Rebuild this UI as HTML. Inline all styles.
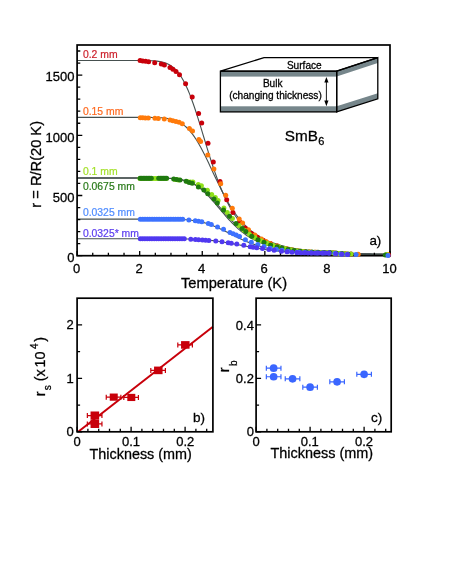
<!DOCTYPE html>
<html lang="en"><head><meta charset="utf-8"><title>SmB6 thickness dependence</title>
<style>html,body{margin:0;padding:0;background:#fff}body{width:450px;height:582px;overflow:hidden}svg{display:block}svg text{stroke:#000;stroke-width:.28px}</style>
</head><body>
<svg width="450" height="582" viewBox="0 0 450 582" font-family="'Liberation Sans', sans-serif" fill="#000">
<rect width="450" height="582" fill="#fff"/>
<g fill="none" stroke="#46504f" stroke-width="1.1">
<path d="M77.10 60.53 L108.39 60.53 L109.95 60.53 L111.52 60.53 L113.08 60.53 L114.65 60.53 L116.21 60.53 L117.78 60.53 L119.34 60.53 L120.91 60.53 L122.47 60.53 L124.03 60.53 L125.60 60.53 L127.16 60.53 L128.73 60.53 L130.29 60.53 L131.86 60.53 L133.42 60.53 L134.99 60.53 L136.55 60.54 L138.12 60.54 L139.68 60.54 L141.24 60.55 L142.81 60.56 L144.37 60.58 L145.94 60.60 L147.50 60.63 L149.07 60.66 L150.63 60.72 L152.20 60.79 L153.76 60.88 L155.32 61.00 L156.89 61.16 L158.45 61.36 L160.02 61.61 L161.58 61.92 L163.15 62.30 L164.71 62.77 L166.28 63.33 L167.84 64.01 L169.41 64.82 L170.97 65.78 L172.53 66.90 L174.10 68.21 L175.66 69.71 L177.23 71.43 L178.79 73.38 L180.36 75.58 L181.92 78.04 L183.49 80.77 L185.05 83.77 L186.61 87.04 L188.18 90.59 L189.74 94.40 L191.31 98.47 L192.87 102.77 L194.44 107.29 L196.00 111.99 L197.57 116.85 L199.13 121.85 L200.70 126.93 L202.26 132.08 L203.82 137.26 L205.39 142.43 L206.95 147.57 L208.52 152.65 L210.08 157.63 L211.65 162.50 L213.21 167.23 L214.78 171.82 L216.34 176.25 L217.90 180.50 L219.47 184.58 L221.03 188.47 L222.60 192.18 L224.16 195.70 L225.73 199.05 L227.29 202.21 L228.86 205.20 L230.42 208.02 L231.99 210.68 L233.55 213.18 L235.11 215.54 L236.68 217.75 L238.24 219.83 L239.81 221.78 L241.37 223.61 L242.94 225.33 L244.50 226.95 L246.07 228.46 L247.63 229.88 L249.19 231.22 L250.76 232.47 L252.32 233.64 L253.89 234.75 L255.45 235.78 L257.02 236.76 L258.58 237.67 L260.15 238.53 L261.71 239.34 L263.28 240.11 L264.84 240.83 L266.40 241.50 L267.97 242.14 L269.53 242.74 L271.10 243.31 L272.66 243.84 L274.23 244.35 L275.79 244.83 L277.36 245.28 L278.92 245.71 L280.48 246.11 L282.05 246.49 L283.61 246.86 L285.18 247.20 L286.74 247.53 L288.31 247.84 L289.87 248.13 L291.44 248.41 L293.00 248.68 L294.57 248.93 L296.13 249.17 L297.69 249.40 L299.26 249.62 L300.82 249.83 L302.39 250.03 L303.95 250.22 L305.52 250.40 L307.08 250.57 L308.65 250.74 L310.21 250.89 L311.77 251.04 L313.34 251.19 L314.90 251.33 L316.47 251.46 L318.03 251.59 L319.60 251.71 L321.16 251.82 L322.73 251.93 L324.29 252.04 L325.86 252.14 L327.42 252.24 L328.98 252.34 L330.55 252.43 L332.11 252.52 L333.68 252.60 L335.24 252.68 L336.81 252.76 L338.37 252.84 L339.94 252.91 L341.50 252.98 L343.06 253.05 L344.63 253.11 L346.19 253.17 L347.76 253.23 L349.32 253.29 L350.89 253.35 L352.45 253.40 L354.02 253.46 L355.58 253.51 L357.15 253.56 L358.71 253.60 L360.27 253.65 L361.84 253.69 L363.40 253.74 L364.97 253.78 L366.53 253.82 L368.10 253.86 L369.66 253.90 L371.23 253.93 L372.79 253.97 L374.36 254.00 L375.92 254.04 L377.48 254.07 L379.05 254.10 L380.61 254.13 L382.18 254.16 L383.74 254.19 L385.31 254.22 L386.87 254.24 L388.44 254.27 L390.00 254.30"/>
<path d="M77.10 117.36 L108.39 117.36 L109.95 117.36 L111.52 117.36 L113.08 117.36 L114.65 117.36 L116.21 117.36 L117.78 117.36 L119.34 117.36 L120.91 117.36 L122.47 117.36 L124.03 117.36 L125.60 117.36 L127.16 117.36 L128.73 117.36 L130.29 117.36 L131.86 117.36 L133.42 117.36 L134.99 117.36 L136.55 117.36 L138.12 117.36 L139.68 117.36 L141.24 117.37 L142.81 117.37 L144.37 117.37 L145.94 117.38 L147.50 117.39 L149.07 117.40 L150.63 117.41 L152.20 117.43 L153.76 117.46 L155.32 117.50 L156.89 117.55 L158.45 117.61 L160.02 117.69 L161.58 117.79 L163.15 117.91 L164.71 118.07 L166.28 118.26 L167.84 118.49 L169.41 118.78 L170.97 119.11 L172.53 119.51 L174.10 119.99 L175.66 120.54 L177.23 121.19 L178.79 121.94 L180.36 122.79 L181.92 123.77 L183.49 124.88 L185.05 126.13 L186.61 127.52 L188.18 129.07 L189.74 130.78 L191.31 132.65 L192.87 134.68 L194.44 136.88 L196.00 139.24 L197.57 141.76 L199.13 144.42 L200.70 147.23 L202.26 150.16 L203.82 153.20 L205.39 156.34 L206.95 159.57 L208.52 162.85 L210.08 166.18 L211.65 169.54 L213.21 172.90 L214.78 176.25 L216.34 179.58 L217.90 182.86 L219.47 186.09 L221.03 189.24 L222.60 192.32 L224.16 195.32 L225.73 198.21 L227.29 201.01 L228.86 203.70 L230.42 206.29 L231.99 208.76 L233.55 211.13 L235.11 213.39 L236.68 215.53 L238.24 217.58 L239.81 219.52 L241.37 221.36 L242.94 223.10 L244.50 224.75 L246.07 226.31 L247.63 227.79 L249.19 229.18 L250.76 230.50 L252.32 231.74 L253.89 232.92 L255.45 234.03 L257.02 235.07 L258.58 236.06 L260.15 236.99 L261.71 237.87 L263.28 238.70 L264.84 239.48 L266.40 240.22 L267.97 240.92 L269.53 241.58 L271.10 242.20 L272.66 242.79 L274.23 243.35 L275.79 243.87 L277.36 244.37 L278.92 244.85 L280.48 245.29 L282.05 245.72 L283.61 246.12 L285.18 246.50 L286.74 246.86 L288.31 247.21 L289.87 247.53 L291.44 247.84 L293.00 248.14 L294.57 248.42 L296.13 248.68 L297.69 248.94 L299.26 249.18 L300.82 249.41 L302.39 249.63 L303.95 249.84 L305.52 250.04 L307.08 250.23 L308.65 250.41 L310.21 250.58 L311.77 250.75 L313.34 250.91 L314.90 251.06 L316.47 251.21 L318.03 251.34 L319.60 251.48 L321.16 251.60 L322.73 251.73 L324.29 251.84 L325.86 251.96 L327.42 252.06 L328.98 252.17 L330.55 252.27 L332.11 252.36 L333.68 252.46 L335.24 252.54 L336.81 252.63 L338.37 252.71 L339.94 252.79 L341.50 252.87 L343.06 252.94 L344.63 253.01 L346.19 253.08 L347.76 253.14 L349.32 253.20 L350.89 253.27 L352.45 253.32 L354.02 253.38 L355.58 253.44 L357.15 253.49 L358.71 253.54 L360.27 253.59 L361.84 253.64 L363.40 253.68 L364.97 253.73 L366.53 253.77 L368.10 253.81 L369.66 253.85 L371.23 253.89 L372.79 253.93 L374.36 253.97 L375.92 254.00 L377.48 254.04 L379.05 254.07 L380.61 254.10 L382.18 254.14 L383.74 254.17 L385.31 254.20 L386.87 254.22 L388.44 254.25 L390.00 254.28"/>
<path d="M77.10 177.92 L108.39 177.92 L109.95 177.92 L111.52 177.92 L113.08 177.92 L114.65 177.92 L116.21 177.92 L117.78 177.92 L119.34 177.92 L120.91 177.92 L122.47 177.92 L124.03 177.92 L125.60 177.92 L127.16 177.92 L128.73 177.92 L130.29 177.92 L131.86 177.92 L133.42 177.92 L134.99 177.92 L136.55 177.92 L138.12 177.92 L139.68 177.92 L141.24 177.92 L142.81 177.92 L144.37 177.92 L145.94 177.92 L147.50 177.93 L149.07 177.93 L150.63 177.93 L152.20 177.94 L153.76 177.94 L155.32 177.95 L156.89 177.96 L158.45 177.98 L160.02 178.00 L161.58 178.02 L163.15 178.05 L164.71 178.09 L166.28 178.14 L167.84 178.20 L169.41 178.28 L170.97 178.38 L172.53 178.49 L174.10 178.63 L175.66 178.79 L177.23 178.99 L178.79 179.22 L180.36 179.50 L181.92 179.81 L183.49 180.18 L185.05 180.60 L186.61 181.08 L188.18 181.63 L189.74 182.25 L191.31 182.94 L192.87 183.71 L194.44 184.57 L196.00 185.51 L197.57 186.54 L199.13 187.66 L200.70 188.86 L202.26 190.15 L203.82 191.53 L205.39 192.99 L206.95 194.53 L208.52 196.14 L210.08 197.81 L211.65 199.54 L213.21 201.31 L214.78 203.12 L216.34 204.96 L217.90 206.82 L219.47 208.68 L221.03 210.54 L222.60 212.39 L224.16 214.22 L225.73 216.02 L227.29 217.79 L228.86 219.52 L230.42 221.21 L231.99 222.84 L233.55 224.42 L235.11 225.94 L236.68 227.41 L238.24 228.82 L239.81 230.16 L241.37 231.45 L242.94 232.67 L244.50 233.84 L246.07 234.95 L247.63 236.01 L249.19 237.01 L250.76 237.96 L252.32 238.85 L253.89 239.70 L255.45 240.51 L257.02 241.27 L258.58 241.98 L260.15 242.66 L261.71 243.30 L263.28 243.90 L264.84 244.47 L266.40 245.01 L267.97 245.52 L269.53 246.00 L271.10 246.45 L272.66 246.88 L274.23 247.28 L275.79 247.66 L277.36 248.03 L278.92 248.37 L280.48 248.69 L282.05 248.99 L283.61 249.28 L285.18 249.55 L286.74 249.81 L288.31 250.06 L289.87 250.29 L291.44 250.51 L293.00 250.72 L294.57 250.92 L296.13 251.10 L297.69 251.28 L299.26 251.45 L300.82 251.61 L302.39 251.77 L303.95 251.91 L305.52 252.05 L307.08 252.18 L308.65 252.31 L310.21 252.43 L311.77 252.54 L313.34 252.65 L314.90 252.76 L316.47 252.86 L318.03 252.95 L319.60 253.04 L321.16 253.13 L322.73 253.21 L324.29 253.29 L325.86 253.37 L327.42 253.44 L328.98 253.51 L330.55 253.58 L332.11 253.64 L333.68 253.70 L335.24 253.76 L336.81 253.82 L338.37 253.87 L339.94 253.92 L341.50 253.97 L343.06 254.02 L344.63 254.07 L346.19 254.11 L347.76 254.15 L349.32 254.20 L350.89 254.24 L352.45 254.27 L354.02 254.31 L355.58 254.35 L357.15 254.38 L358.71 254.41 L360.27 254.45 L361.84 254.48 L363.40 254.51 L364.97 254.53 L366.53 254.56 L368.10 254.59 L369.66 254.61 L371.23 254.64 L372.79 254.66 L374.36 254.69 L375.92 254.71 L377.48 254.73 L379.05 254.75 L380.61 254.77 L382.18 254.79 L383.74 254.81 L385.31 254.83 L386.87 254.85 L388.44 254.87 L390.00 254.88"/>
<path d="M77.10 178.16 L108.39 178.16 L109.95 178.16 L111.52 178.16 L113.08 178.16 L114.65 178.16 L116.21 178.16 L117.78 178.16 L119.34 178.16 L120.91 178.16 L122.47 178.16 L124.03 178.16 L125.60 178.16 L127.16 178.16 L128.73 178.16 L130.29 178.16 L131.86 178.16 L133.42 178.16 L134.99 178.16 L136.55 178.16 L138.12 178.16 L139.68 178.16 L141.24 178.16 L142.81 178.16 L144.37 178.16 L145.94 178.17 L147.50 178.17 L149.07 178.17 L150.63 178.17 L152.20 178.18 L153.76 178.18 L155.32 178.19 L156.89 178.20 L158.45 178.21 L160.02 178.23 L161.58 178.25 L163.15 178.28 L164.71 178.31 L166.28 178.36 L167.84 178.42 L169.41 178.48 L170.97 178.57 L172.53 178.67 L174.10 178.80 L175.66 178.94 L177.23 179.12 L178.79 179.33 L180.36 179.57 L181.92 179.86 L183.49 180.19 L185.05 180.57 L186.61 181.00 L188.18 181.50 L189.74 182.06 L191.31 182.68 L192.87 183.38 L194.44 184.16 L196.00 185.02 L197.57 185.96 L199.13 186.98 L200.70 188.09 L202.26 189.28 L203.82 190.56 L205.39 191.92 L206.95 193.35 L208.52 194.86 L210.08 196.43 L211.65 198.07 L213.21 199.75 L214.78 201.48 L216.34 203.24 L217.90 205.03 L219.47 206.84 L221.03 208.65 L222.60 210.46 L224.16 212.27 L225.73 214.05 L227.29 215.81 L228.86 217.54 L230.42 219.23 L231.99 220.87 L233.55 222.47 L235.11 224.03 L236.68 225.52 L238.24 226.97 L239.81 228.35 L241.37 229.68 L242.94 230.96 L244.50 232.17 L246.07 233.33 L247.63 234.44 L249.19 235.49 L250.76 236.49 L252.32 237.44 L253.89 238.34 L255.45 239.19 L257.02 240.00 L258.58 240.76 L260.15 241.49 L261.71 242.17 L263.28 242.82 L264.84 243.43 L266.40 244.01 L267.97 244.56 L269.53 245.07 L271.10 245.56 L272.66 246.03 L274.23 246.46 L275.79 246.88 L277.36 247.27 L278.92 247.64 L280.48 247.99 L282.05 248.32 L283.61 248.64 L285.18 248.93 L286.74 249.22 L288.31 249.48 L289.87 249.74 L291.44 249.98 L293.00 250.21 L294.57 250.42 L296.13 250.63 L297.69 250.82 L299.26 251.01 L300.82 251.19 L302.39 251.36 L303.95 251.52 L305.52 251.67 L307.08 251.81 L308.65 251.95 L310.21 252.08 L311.77 252.21 L313.34 252.33 L314.90 252.44 L316.47 252.55 L318.03 252.66 L319.60 252.76 L321.16 252.85 L322.73 252.95 L324.29 253.03 L325.86 253.12 L327.42 253.20 L328.98 253.27 L330.55 253.35 L332.11 253.42 L333.68 253.49 L335.24 253.55 L336.81 253.61 L338.37 253.67 L339.94 253.73 L341.50 253.79 L343.06 253.84 L344.63 253.89 L346.19 253.94 L347.76 253.99 L349.32 254.03 L350.89 254.08 L352.45 254.12 L354.02 254.16 L355.58 254.20 L357.15 254.24 L358.71 254.27 L360.27 254.31 L361.84 254.34 L363.40 254.38 L364.97 254.41 L366.53 254.44 L368.10 254.47 L369.66 254.50 L371.23 254.52 L372.79 254.55 L374.36 254.58 L375.92 254.60 L377.48 254.63 L379.05 254.65 L380.61 254.67 L382.18 254.69 L383.74 254.72 L385.31 254.74 L386.87 254.76 L388.44 254.78 L390.00 254.79"/>
<path d="M77.10 219.10 L108.39 219.10 L109.95 219.10 L111.52 219.10 L113.08 219.10 L114.65 219.10 L116.21 219.10 L117.78 219.10 L119.34 219.10 L120.91 219.10 L122.47 219.10 L124.03 219.10 L125.60 219.10 L127.16 219.10 L128.73 219.10 L130.29 219.10 L131.86 219.10 L133.42 219.10 L134.99 219.10 L136.55 219.10 L138.12 219.10 L139.68 219.10 L141.24 219.10 L142.81 219.10 L144.37 219.10 L145.94 219.10 L147.50 219.10 L149.07 219.10 L150.63 219.10 L152.20 219.10 L153.76 219.10 L155.32 219.10 L156.89 219.11 L158.45 219.11 L160.02 219.11 L161.58 219.12 L163.15 219.12 L164.71 219.13 L166.28 219.14 L167.84 219.15 L169.41 219.17 L170.97 219.19 L172.53 219.21 L174.10 219.24 L175.66 219.28 L177.23 219.32 L178.79 219.37 L180.36 219.43 L181.92 219.51 L183.49 219.59 L185.05 219.69 L186.61 219.80 L188.18 219.93 L189.74 220.09 L191.31 220.26 L192.87 220.45 L194.44 220.67 L196.00 220.92 L197.57 221.19 L199.13 221.50 L200.70 221.84 L202.26 222.21 L203.82 222.61 L205.39 223.05 L206.95 223.52 L208.52 224.03 L210.08 224.57 L211.65 225.15 L213.21 225.76 L214.78 226.40 L216.34 227.08 L217.90 227.77 L219.47 228.50 L221.03 229.24 L222.60 230.00 L224.16 230.78 L225.73 231.57 L227.29 232.36 L228.86 233.16 L230.42 233.96 L231.99 234.76 L233.55 235.55 L235.11 236.34 L236.68 237.11 L238.24 237.87 L239.81 238.61 L241.37 239.33 L242.94 240.04 L244.50 240.72 L246.07 241.38 L247.63 242.02 L249.19 242.63 L250.76 243.23 L252.32 243.80 L253.89 244.34 L255.45 244.86 L257.02 245.36 L258.58 245.84 L260.15 246.29 L261.71 246.73 L263.28 247.14 L264.84 247.53 L266.40 247.91 L267.97 248.26 L269.53 248.60 L271.10 248.92 L272.66 249.23 L274.23 249.52 L275.79 249.79 L277.36 250.05 L278.92 250.30 L280.48 250.53 L282.05 250.75 L283.61 250.97 L285.18 251.17 L286.74 251.36 L288.31 251.54 L289.87 251.71 L291.44 251.87 L293.00 252.03 L294.57 252.17 L296.13 252.31 L297.69 252.45 L299.26 252.57 L300.82 252.69 L302.39 252.81 L303.95 252.92 L305.52 253.02 L307.08 253.12 L308.65 253.21 L310.21 253.30 L311.77 253.39 L313.34 253.47 L314.90 253.55 L316.47 253.62 L318.03 253.70 L319.60 253.76 L321.16 253.83 L322.73 253.89 L324.29 253.95 L325.86 254.01 L327.42 254.06 L328.98 254.11 L330.55 254.16 L332.11 254.21 L333.68 254.26 L335.24 254.30 L336.81 254.34 L338.37 254.38 L339.94 254.42 L341.50 254.46 L343.06 254.49 L344.63 254.53 L346.19 254.56 L347.76 254.59 L349.32 254.62 L350.89 254.65 L352.45 254.68 L354.02 254.71 L355.58 254.74 L357.15 254.76 L358.71 254.79 L360.27 254.81 L361.84 254.83 L363.40 254.85 L364.97 254.87 L366.53 254.90 L368.10 254.91 L369.66 254.93 L371.23 254.95 L372.79 254.97 L374.36 254.99 L375.92 255.00 L377.48 255.02 L379.05 255.04 L380.61 255.05 L382.18 255.06 L383.74 255.08 L385.31 255.09 L386.87 255.11 L388.44 255.12 L390.00 255.13"/>
<path d="M77.10 238.72 L108.39 238.72 L109.95 238.72 L111.52 238.72 L113.08 238.72 L114.65 238.72 L116.21 238.72 L117.78 238.72 L119.34 238.72 L120.91 238.72 L122.47 238.72 L124.03 238.72 L125.60 238.72 L127.16 238.72 L128.73 238.72 L130.29 238.72 L131.86 238.72 L133.42 238.72 L134.99 238.72 L136.55 238.72 L138.12 238.72 L139.68 238.72 L141.24 238.72 L142.81 238.72 L144.37 238.72 L145.94 238.72 L147.50 238.72 L149.07 238.72 L150.63 238.72 L152.20 238.72 L153.76 238.72 L155.32 238.73 L156.89 238.73 L158.45 238.73 L160.02 238.73 L161.58 238.73 L163.15 238.73 L164.71 238.73 L166.28 238.74 L167.84 238.74 L169.41 238.75 L170.97 238.75 L172.53 238.76 L174.10 238.77 L175.66 238.78 L177.23 238.79 L178.79 238.81 L180.36 238.83 L181.92 238.85 L183.49 238.87 L185.05 238.90 L186.61 238.94 L188.18 238.97 L189.74 239.02 L191.31 239.06 L192.87 239.12 L194.44 239.18 L196.00 239.25 L197.57 239.33 L199.13 239.41 L200.70 239.51 L202.26 239.61 L203.82 239.72 L205.39 239.85 L206.95 239.98 L208.52 240.13 L210.08 240.28 L211.65 240.45 L213.21 240.63 L214.78 240.82 L216.34 241.02 L217.90 241.23 L219.47 241.45 L221.03 241.69 L222.60 241.93 L224.16 242.18 L225.73 242.44 L227.29 242.71 L228.86 242.99 L230.42 243.27 L231.99 243.56 L233.55 243.86 L235.11 244.15 L236.68 244.45 L238.24 244.76 L239.81 245.06 L241.37 245.36 L242.94 245.66 L244.50 245.96 L246.07 246.26 L247.63 246.56 L249.19 246.85 L250.76 247.13 L252.32 247.41 L253.89 247.69 L255.45 247.96 L257.02 248.23 L258.58 248.48 L260.15 248.73 L261.71 248.98 L263.28 249.22 L264.84 249.45 L266.40 249.67 L267.97 249.88 L269.53 250.09 L271.10 250.29 L272.66 250.49 L274.23 250.67 L275.79 250.85 L277.36 251.03 L278.92 251.20 L280.48 251.36 L282.05 251.51 L283.61 251.66 L285.18 251.80 L286.74 251.94 L288.31 252.07 L289.87 252.20 L291.44 252.32 L293.00 252.44 L294.57 252.55 L296.13 252.66 L297.69 252.76 L299.26 252.86 L300.82 252.95 L302.39 253.04 L303.95 253.13 L305.52 253.21 L307.08 253.30 L308.65 253.37 L310.21 253.45 L311.77 253.52 L313.34 253.59 L314.90 253.65 L316.47 253.71 L318.03 253.78 L319.60 253.83 L321.16 253.89 L322.73 253.94 L324.29 253.99 L325.86 254.04 L327.42 254.09 L328.98 254.14 L330.55 254.18 L332.11 254.23 L333.68 254.27 L335.24 254.31 L336.81 254.34 L338.37 254.38 L339.94 254.42 L341.50 254.45 L343.06 254.48 L344.63 254.51 L346.19 254.55 L347.76 254.57 L349.32 254.60 L350.89 254.63 L352.45 254.66 L354.02 254.68 L355.58 254.71 L357.15 254.73 L358.71 254.75 L360.27 254.78 L361.84 254.80 L363.40 254.82 L364.97 254.84 L366.53 254.86 L368.10 254.88 L369.66 254.90 L371.23 254.91 L372.79 254.93 L374.36 254.95 L375.92 254.96 L377.48 254.98 L379.05 255.00 L380.61 255.01 L382.18 255.02 L383.74 255.04 L385.31 255.05 L386.87 255.06 L388.44 255.08 L390.00 255.09"/>
</g>
<rect x="77.10" y="45.00" width="312.90" height="210.70" fill="none" stroke="#000" stroke-width="1.7"/>
<path d="M77.10 255.70 v-4.80 M92.74 255.70 v-3.00 M108.39 255.70 v-3.00 M124.03 255.70 v-3.00 M139.68 255.70 v-4.80 M155.32 255.70 v-3.00 M170.97 255.70 v-3.00 M186.62 255.70 v-3.00 M202.26 255.70 v-4.80 M217.91 255.70 v-3.00 M233.55 255.70 v-3.00 M249.19 255.70 v-3.00 M264.84 255.70 v-4.80 M280.49 255.70 v-3.00 M296.13 255.70 v-3.00 M311.77 255.70 v-3.00 M327.42 255.70 v-4.80 M343.06 255.70 v-3.00 M358.71 255.70 v-3.00 M374.36 255.70 v-3.00 M390.00 255.70 v-4.80 M77.10 255.70 h5.20 M77.10 243.66 h3.20 M77.10 231.62 h3.20 M77.10 219.58 h3.20 M77.10 207.54 h3.20 M77.10 195.50 h5.20 M77.10 183.46 h3.20 M77.10 171.42 h3.20 M77.10 159.38 h3.20 M77.10 147.34 h3.20 M77.10 135.30 h5.20 M77.10 123.26 h3.20 M77.10 111.22 h3.20 M77.10 99.18 h3.20 M77.10 87.14 h3.20 M77.10 75.10 h5.20 M77.10 63.06 h3.20 M77.10 51.02 h3.20" stroke="#000" stroke-width="1.3" fill="none"/>
<g fill="#c8000a">
<circle cx="140.1" cy="60.5" r="2.50"/><circle cx="142.7" cy="60.9" r="2.50"/><circle cx="145.6" cy="61.3" r="2.50"/><circle cx="148.6" cy="61.7" r="2.50"/><circle cx="154.7" cy="62.8" r="2.50"/><circle cx="161.3" cy="64.1" r="2.50"/><circle cx="164.4" cy="64.9" r="2.50"/><circle cx="170.0" cy="67.4" r="2.50"/><circle cx="172.9" cy="69.3" r="2.50"/><circle cx="176.0" cy="71.4" r="2.50"/><circle cx="179.5" cy="74.7" r="2.50"/><circle cx="185.6" cy="83.8" r="2.50"/><circle cx="192.2" cy="97.1" r="2.50"/><circle cx="198.6" cy="113.5" r="2.50"/><circle cx="201.7" cy="123.1" r="2.50"/><circle cx="208.0" cy="143.3" r="2.50"/><circle cx="213.3" cy="161.9" r="2.50"/><circle cx="220.0" cy="181.5" r="2.50"/><circle cx="226.7" cy="199.8" r="2.50"/><circle cx="232.9" cy="212.4" r="2.50"/><circle cx="239.6" cy="221.8" r="2.50"/><circle cx="245.3" cy="228.1" r="2.50"/><circle cx="251.5" cy="233.4" r="2.50"/><circle cx="257.5" cy="237.3" r="2.50"/><circle cx="263.5" cy="240.6" r="2.50"/><circle cx="270.5" cy="243.5" r="2.50"/><circle cx="277.5" cy="246.0" r="2.50"/><circle cx="285.0" cy="248.6" r="2.50"/><circle cx="291.0" cy="250.0" r="2.50"/><circle cx="297.0" cy="250.9" r="2.50"/><circle cx="303.0" cy="251.6" r="2.50"/><circle cx="309.0" cy="251.9" r="2.50"/><circle cx="315.0" cy="252.2" r="2.50"/><circle cx="321.0" cy="252.4" r="2.50"/><circle cx="327.0" cy="252.5" r="2.50"/><circle cx="333.0" cy="252.8" r="2.50"/><circle cx="339.0" cy="253.4" r="2.50"/><circle cx="345.0" cy="253.8" r="2.50"/><circle cx="351.0" cy="254.1" r="2.50"/><circle cx="388.6" cy="254.9" r="2.50"/>
</g>
<g fill="#ff7a0a">
<circle cx="140.3" cy="117.7" r="2.50"/><circle cx="142.7" cy="117.8" r="2.50"/><circle cx="145.3" cy="117.9" r="2.50"/><circle cx="148.3" cy="118.1" r="2.50"/><circle cx="154.9" cy="118.3" r="2.50"/><circle cx="158.3" cy="118.5" r="2.50"/><circle cx="164.3" cy="118.9" r="2.50"/><circle cx="170.0" cy="119.9" r="2.50"/><circle cx="172.9" cy="120.7" r="2.50"/><circle cx="176.0" cy="121.5" r="2.50"/><circle cx="179.1" cy="122.3" r="2.50"/><circle cx="182.3" cy="123.7" r="2.50"/><circle cx="189.4" cy="128.4" r="2.50"/><circle cx="192.5" cy="131.1" r="2.50"/><circle cx="198.9" cy="139.4" r="2.50"/><circle cx="200.6" cy="141.6" r="2.50"/><circle cx="207.8" cy="154.9" r="2.50"/><circle cx="213.9" cy="168.9" r="2.50"/><circle cx="220.7" cy="183.8" r="2.50"/><circle cx="225.7" cy="195.2" r="2.50"/><circle cx="232.3" cy="208.3" r="2.50"/><circle cx="239.2" cy="218.9" r="2.50"/><circle cx="242.6" cy="223.1" r="2.50"/><circle cx="248.5" cy="229.7" r="2.50"/><circle cx="254.8" cy="235.0" r="2.50"/><circle cx="261.5" cy="239.0" r="2.50"/><circle cx="266.0" cy="241.5" r="2.50"/><circle cx="270.1" cy="243.5" r="2.50"/><circle cx="276.9" cy="246.0" r="2.50"/><circle cx="286.6" cy="248.8" r="2.50"/><circle cx="292.5" cy="250.1" r="2.50"/><circle cx="298.5" cy="251.1" r="2.50"/><circle cx="304.5" cy="251.7" r="2.50"/><circle cx="310.5" cy="252.1" r="2.50"/><circle cx="316.5" cy="252.3" r="2.50"/><circle cx="322.5" cy="252.5" r="2.50"/><circle cx="328.5" cy="252.6" r="2.50"/><circle cx="334.5" cy="253.0" r="2.50"/><circle cx="340.5" cy="253.6" r="2.50"/><circle cx="346.5" cy="254.0" r="2.50"/><circle cx="358.2" cy="254.2" r="2.50"/><circle cx="387.7" cy="254.4" r="2.50"/>
</g>
<g fill="#8fe01a">
<circle cx="140.0" cy="178.4" r="2.50"/><circle cx="142.2" cy="178.4" r="2.50"/><circle cx="144.3" cy="178.4" r="2.50"/><circle cx="146.4" cy="178.4" r="2.50"/><circle cx="148.6" cy="178.4" r="2.50"/><circle cx="150.8" cy="178.4" r="2.50"/><circle cx="152.9" cy="178.4" r="2.50"/><circle cx="155.1" cy="178.4" r="2.50"/><circle cx="157.2" cy="178.4" r="2.50"/><circle cx="160.0" cy="178.5" r="2.50"/><circle cx="162.1" cy="178.5" r="2.50"/><circle cx="164.2" cy="178.5" r="2.50"/><circle cx="166.3" cy="178.5" r="2.50"/><circle cx="175.0" cy="179.4" r="2.50"/><circle cx="178.3" cy="179.9" r="2.50"/><circle cx="187.3" cy="181.5" r="2.50"/><circle cx="190.3" cy="181.9" r="2.50"/><circle cx="192.9" cy="182.0" r="2.50"/><circle cx="198.3" cy="184.4" r="2.50"/><circle cx="201.4" cy="185.8" r="2.50"/><circle cx="207.4" cy="190.2" r="2.50"/><circle cx="211.7" cy="194.6" r="2.50"/><circle cx="215.3" cy="197.6" r="2.50"/><circle cx="218.1" cy="200.6" r="2.50"/><circle cx="223.9" cy="208.1" r="2.50"/><circle cx="227.3" cy="212.6" r="2.50"/><circle cx="232.4" cy="218.6" r="2.50"/><circle cx="238.9" cy="225.5" r="2.50"/><circle cx="244.0" cy="230.2" r="2.50"/><circle cx="249.5" cy="234.2" r="2.50"/><circle cx="255.0" cy="237.7" r="2.50"/><circle cx="261.0" cy="240.8" r="2.50"/><circle cx="267.0" cy="243.3" r="2.50"/><circle cx="273.0" cy="245.3" r="2.50"/><circle cx="279.0" cy="247.0" r="2.50"/><circle cx="285.0" cy="248.4" r="2.50"/><circle cx="291.0" cy="249.8" r="2.50"/><circle cx="297.0" cy="250.8" r="2.50"/><circle cx="303.0" cy="251.5" r="2.50"/><circle cx="309.0" cy="251.9" r="2.50"/><circle cx="315.0" cy="252.2" r="2.50"/><circle cx="321.0" cy="252.4" r="2.50"/><circle cx="327.0" cy="252.5" r="2.50"/><circle cx="333.0" cy="252.8" r="2.50"/><circle cx="339.0" cy="253.4" r="2.50"/><circle cx="345.0" cy="253.8" r="2.50"/><circle cx="351.0" cy="254.1" r="2.50"/><circle cx="386.5" cy="254.6" r="2.50"/>
</g>
<g fill="#1f7a0f">
<circle cx="140.1" cy="178.2" r="2.50"/><circle cx="141.7" cy="178.2" r="2.50"/><circle cx="143.3" cy="178.2" r="2.50"/><circle cx="144.9" cy="178.2" r="2.50"/><circle cx="146.5" cy="178.2" r="2.50"/><circle cx="148.1" cy="178.2" r="2.50"/><circle cx="149.7" cy="178.2" r="2.50"/><circle cx="151.3" cy="178.2" r="2.50"/><circle cx="158.7" cy="178.3" r="2.50"/><circle cx="160.3" cy="178.3" r="2.50"/><circle cx="161.9" cy="178.3" r="2.50"/><circle cx="163.4" cy="178.3" r="2.50"/><circle cx="165.0" cy="178.3" r="2.50"/><circle cx="166.6" cy="178.3" r="2.50"/><circle cx="173.7" cy="179.1" r="2.50"/><circle cx="176.7" cy="179.4" r="2.50"/><circle cx="180.0" cy="180.0" r="2.50"/><circle cx="186.1" cy="181.3" r="2.50"/><circle cx="189.2" cy="182.4" r="2.50"/><circle cx="192.2" cy="183.3" r="2.50"/><circle cx="198.4" cy="186.9" r="2.50"/><circle cx="203.9" cy="190.1" r="2.50"/><circle cx="207.8" cy="193.7" r="2.50"/><circle cx="214.0" cy="199.1" r="2.50"/><circle cx="217.3" cy="203.1" r="2.50"/><circle cx="223.5" cy="210.0" r="2.50"/><circle cx="229.5" cy="216.2" r="2.50"/><circle cx="236.0" cy="223.4" r="2.50"/><circle cx="242.2" cy="228.6" r="2.50"/><circle cx="245.8" cy="231.5" r="2.50"/><circle cx="251.8" cy="236.3" r="2.50"/><circle cx="258.0" cy="239.8" r="2.50"/><circle cx="264.0" cy="242.3" r="2.50"/><circle cx="270.6" cy="244.9" r="2.50"/><circle cx="277.2" cy="246.8" r="2.50"/><circle cx="281.9" cy="247.9" r="2.50"/><circle cx="288.0" cy="249.5" r="2.50"/><circle cx="294.0" cy="250.6" r="2.50"/><circle cx="300.0" cy="251.3" r="2.50"/><circle cx="306.0" cy="251.8" r="2.50"/><circle cx="312.0" cy="252.1" r="2.50"/><circle cx="318.0" cy="252.3" r="2.50"/><circle cx="324.0" cy="252.5" r="2.50"/><circle cx="330.0" cy="252.6" r="2.50"/><circle cx="336.0" cy="253.1" r="2.50"/><circle cx="342.0" cy="253.6" r="2.50"/><circle cx="348.0" cy="254.1" r="2.50"/><circle cx="385.3" cy="254.9" r="2.50"/>
</g>
<g fill="#3d72ff">
<circle cx="140.3" cy="219.2" r="2.50"/><circle cx="142.7" cy="219.2" r="2.50"/><circle cx="145.0" cy="219.2" r="2.50"/><circle cx="147.4" cy="219.2" r="2.50"/><circle cx="149.7" cy="219.2" r="2.50"/><circle cx="152.1" cy="219.2" r="2.50"/><circle cx="154.4" cy="219.2" r="2.50"/><circle cx="156.8" cy="219.2" r="2.50"/><circle cx="159.1" cy="219.2" r="2.50"/><circle cx="161.5" cy="219.2" r="2.50"/><circle cx="163.9" cy="219.2" r="2.50"/><circle cx="166.2" cy="219.2" r="2.50"/><circle cx="168.6" cy="219.2" r="2.50"/><circle cx="170.9" cy="219.2" r="2.50"/><circle cx="173.3" cy="219.2" r="2.50"/><circle cx="175.6" cy="219.2" r="2.50"/><circle cx="178.0" cy="219.2" r="2.50"/><circle cx="180.3" cy="219.2" r="2.50"/><circle cx="182.7" cy="219.2" r="2.50"/><circle cx="188.9" cy="220.0" r="2.50"/><circle cx="195.3" cy="220.8" r="2.50"/><circle cx="198.5" cy="221.2" r="2.50"/><circle cx="201.8" cy="221.8" r="2.50"/><circle cx="208.3" cy="223.6" r="2.50"/><circle cx="211.3" cy="224.4" r="2.50"/><circle cx="217.5" cy="227.0" r="2.50"/><circle cx="223.5" cy="229.3" r="2.50"/><circle cx="230.0" cy="232.6" r="2.50"/><circle cx="233.1" cy="233.7" r="2.50"/><circle cx="236.2" cy="235.0" r="2.50"/><circle cx="239.5" cy="236.5" r="2.50"/><circle cx="245.4" cy="239.7" r="2.50"/><circle cx="251.3" cy="242.2" r="2.50"/><circle cx="257.8" cy="244.4" r="2.50"/><circle cx="264.0" cy="246.5" r="2.50"/><circle cx="270.2" cy="248.3" r="2.50"/><circle cx="276.4" cy="249.2" r="2.50"/><circle cx="282.0" cy="250.2" r="2.50"/><circle cx="296.9" cy="252.2" r="2.50"/><circle cx="288.0" cy="251.2" r="2.50"/><circle cx="299.0" cy="252.3" r="2.50"/><circle cx="305.0" cy="252.6" r="2.50"/><circle cx="311.0" cy="252.8" r="2.50"/><circle cx="317.0" cy="252.9" r="2.50"/><circle cx="323.0" cy="253.0" r="2.50"/><circle cx="329.0" cy="253.1" r="2.50"/><circle cx="335.0" cy="253.5" r="2.50"/><circle cx="341.0" cy="254.1" r="2.50"/><circle cx="347.0" cy="254.5" r="2.50"/><circle cx="356.1" cy="254.6" r="2.50"/><circle cx="388.0" cy="255.4" r="2.50"/>
</g>
<g fill="#5038f0">
<circle cx="140.3" cy="238.7" r="2.50"/><circle cx="142.6" cy="238.7" r="2.50"/><circle cx="144.9" cy="238.7" r="2.50"/><circle cx="147.2" cy="238.7" r="2.50"/><circle cx="149.6" cy="238.7" r="2.50"/><circle cx="151.9" cy="238.7" r="2.50"/><circle cx="154.2" cy="238.7" r="2.50"/><circle cx="156.5" cy="238.7" r="2.50"/><circle cx="158.8" cy="238.7" r="2.50"/><circle cx="161.1" cy="238.7" r="2.50"/><circle cx="163.5" cy="238.7" r="2.50"/><circle cx="165.8" cy="238.7" r="2.50"/><circle cx="168.1" cy="238.7" r="2.50"/><circle cx="170.4" cy="238.7" r="2.50"/><circle cx="172.7" cy="238.7" r="2.50"/><circle cx="175.0" cy="238.7" r="2.50"/><circle cx="177.4" cy="238.7" r="2.50"/><circle cx="179.7" cy="238.7" r="2.50"/><circle cx="182.0" cy="238.7" r="2.50"/><circle cx="184.3" cy="238.7" r="2.50"/><circle cx="190.8" cy="239.2" r="2.50"/><circle cx="195.4" cy="239.5" r="2.50"/><circle cx="198.6" cy="239.7" r="2.50"/><circle cx="202.4" cy="240.1" r="2.50"/><circle cx="205.6" cy="240.3" r="2.50"/><circle cx="208.9" cy="240.6" r="2.50"/><circle cx="215.8" cy="241.1" r="2.50"/><circle cx="222.0" cy="241.8" r="2.50"/><circle cx="228.2" cy="242.7" r="2.50"/><circle cx="231.3" cy="243.2" r="2.50"/><circle cx="236.8" cy="244.0" r="2.50"/><circle cx="243.8" cy="245.3" r="2.50"/><circle cx="250.2" cy="246.8" r="2.50"/><circle cx="253.1" cy="247.2" r="2.50"/><circle cx="256.8" cy="247.8" r="2.50"/><circle cx="262.5" cy="248.6" r="2.50"/><circle cx="268.9" cy="249.5" r="2.50"/><circle cx="274.1" cy="250.3" r="2.50"/><circle cx="281.4" cy="251.2" r="2.50"/><circle cx="287.0" cy="251.8" r="2.50"/><circle cx="292.0" cy="252.2" r="2.50"/><circle cx="297.0" cy="252.5" r="2.50"/><circle cx="301.0" cy="252.7" r="2.50"/><circle cx="304.5" cy="252.8" r="2.50"/><circle cx="308.0" cy="252.9" r="2.50"/><circle cx="311.5" cy="253.0" r="2.50"/><circle cx="315.0" cy="253.0" r="2.50"/><circle cx="318.5" cy="253.0" r="2.50"/><circle cx="322.0" cy="253.1" r="2.50"/><circle cx="325.5" cy="253.1" r="2.50"/><circle cx="329.0" cy="253.1" r="2.50"/><circle cx="336.0" cy="253.7" r="2.50"/><circle cx="342.0" cy="254.2" r="2.50"/><circle cx="347.6" cy="254.6" r="2.50"/>
</g>
<g font-size="13" text-anchor="middle">
<text x="76.5" y="272.9">0</text>
<text x="139.1" y="272.9">2</text>
<text x="201.7" y="272.9">4</text>
<text x="264.2" y="272.9">6</text>
<text x="326.8" y="272.9">8</text>
<text x="389.4" y="272.9">10</text>
</g>
<g font-size="13" text-anchor="end">
<text x="74.4" y="262.3">0</text>
<text x="74.4" y="201.9">500</text>
<text x="74.4" y="141.5">1000</text>
<text x="74.4" y="81.1">1500</text>
</g>
<text x="234.0" y="288.2" font-size="14.7" text-anchor="middle">Temperature (K)</text>
<text transform="translate(41.1 164.3) rotate(-90)" font-size="14.65" text-anchor="middle">r = R/R(20 K)</text>
<text x="369.4" y="244.5" font-size="13.4">a)</text>
<text x="82.9" y="57.8" font-size="10.4" fill="#cc1f2a" style="stroke:#cc1f2a;stroke-width:.2px">0.2 mm</text>
<text x="82.9" y="115.0" font-size="10.4" fill="#ff6a20" style="stroke:#ff6a20;stroke-width:.2px">0.15 mm</text>
<text x="82.9" y="174.8" font-size="10.4" fill="#a4e02a" style="stroke:#a4e02a;stroke-width:.2px">0.1 mm</text>
<text x="82.9" y="190.2" font-size="10.4" fill="#2a7a1a" style="stroke:#2a7a1a;stroke-width:.2px">0.0675 mm</text>
<text x="82.9" y="215.5" font-size="10.4" fill="#4f8cff" style="stroke:#4f8cff;stroke-width:.2px">0.0325 mm</text>
<text x="82.9" y="236.5" font-size="10.4" fill="#5a3cf0" style="stroke:#5a3cf0;stroke-width:.2px">0.0325* mm</text>
<text x="284.8" y="141" font-size="15.3">SmB<tspan font-size="11" dy="4.3" dx="0.4">6</tspan></text>
<g stroke="none">
<polygon points="220.4,71.2 264.0,57.7 377.8,57.7 377.8,98.8 336.7,111.9 220.4,111.9" fill="#fff"/>
<rect x="220.4" y="71.2" width="116.29999999999998" height="5.4" fill="#76868b"/>
<rect x="220.4" y="106.30000000000001" width="116.29999999999998" height="5.6" fill="#76868b"/>
<polygon points="336.7,71.2 377.8,57.7 377.8,63.1 336.7,76.60000000000001" fill="#76868b"/>
<polygon points="336.7,106.30000000000001 377.8,93.2 377.8,98.8 336.7,111.9" fill="#76868b"/>
</g>
<g stroke="#000" stroke-width="1.3" fill="none" stroke-linejoin="miter">
<polygon points="220.4,71.2 264.0,57.7 377.8,57.7 336.7,71.2"/>
<rect x="220.4" y="71.2" width="116.29999999999998" height="40.7"/>
<polygon points="336.7,71.2 377.8,57.7 377.8,98.8 336.7,111.9"/>
</g>
<path d="M326.4 81 V102" stroke="#000" stroke-width="0.9"/>
<polygon points="326.4,76.9 324.3,82.6 328.5,82.6"/>
<polygon points="326.4,106.2 324.3,100.5 328.5,100.5"/>
<g font-size="10.1" text-anchor="middle">
<text x="304.3" y="68.5">Surface</text>
<text x="272.7" y="87">Bulk</text>
<text x="275.5" y="99">(changing thickness)</text>
</g>
<path d="M78.18 431.80 L212.90 326.70" stroke="#c8000a" stroke-width="2" fill="none"/>
<g stroke="#c8000a" stroke-width="1.2" fill="#c8000a">
<path d="M87.35 415.59 H101.95 M87.35 413.09 v5 M101.95 413.09 v5" fill="none"/>
<rect x="90.55" y="411.49" width="8.60" height="8.20" stroke="none"/>
<path d="M87.35 423.88 H101.95 M87.35 421.38 v5 M101.95 421.38 v5" fill="none"/>
<rect x="90.55" y="419.78" width="8.60" height="8.20" stroke="none"/>
<path d="M106.25 397.13 H120.85 M106.25 394.63 v5 M120.85 394.63 v5" fill="none"/>
<rect x="109.75" y="393.53" width="8.00" height="7.20" stroke="none"/>
<path d="M123.80 397.45 H138.40 M123.80 394.95 v5 M138.40 394.95 v5" fill="none"/>
<rect x="127.30" y="393.85" width="8.00" height="7.20" stroke="none"/>
<path d="M150.80 370.38 H165.40 M150.80 367.88 v5 M165.40 367.88 v5" fill="none"/>
<rect x="154.05" y="366.58" width="8.50" height="7.60" stroke="none"/>
<path d="M177.80 344.92 H192.40 M177.80 342.42 v5 M192.40 342.42 v5" fill="none"/>
<rect x="181.05" y="341.12" width="8.50" height="7.60" stroke="none"/>
</g>
<rect x="77.10" y="298.20" width="135.80" height="133.60" fill="none" stroke="#000" stroke-width="1.7"/>
<path d="M77.10 431.80 v-5.00 M87.90 431.80 v-3.00 M98.70 431.80 v-3.00 M109.50 431.80 v-3.00 M120.30 431.80 v-3.00 M131.10 431.80 v-5.00 M141.90 431.80 v-3.00 M152.70 431.80 v-3.00 M163.50 431.80 v-3.00 M174.30 431.80 v-3.00 M185.10 431.80 v-5.00 M195.90 431.80 v-3.00 M206.70 431.80 v-3.00 M77.10 431.80 h5.00 M77.10 405.05 h3.00 M77.10 378.30 h5.00 M77.10 351.55 h3.00 M77.10 324.80 h5.00" stroke="#000" stroke-width="1.3" fill="none"/>
<g font-size="13" text-anchor="middle">
<text x="77.1" y="445.5">0</text>
<text x="131.0" y="445.5">0.1</text>
<text x="185.3" y="445.5">0.2</text>
</g>
<g font-size="13" text-anchor="end">
<text x="73.8" y="436.4">0</text>
<text x="73.8" y="382.9">1</text>
<text x="73.8" y="329.4">2</text>
</g>
<text x="140.7" y="459.1" font-size="14.4" text-anchor="middle">Thickness (mm)</text>
<text x="192.9" y="421.6" font-size="13.5">b)</text>
<text transform="translate(44.8 396.3) rotate(-90)" font-size="14.4"><tspan x="0" y="0">r</tspan><tspan x="6.0" y="6.1" font-size="10.2">s</tspan><tspan x="15.1" y="0">(x</tspan><tspan x="28.9" y="0">10</tspan><tspan x="47.4" y="-6.8" font-size="10.2">4</tspan><tspan x="54.6" y="0">)</tspan></text>
<g stroke="#3a66ff" stroke-width="1.2" fill="#3a66ff">
<path d="M266.35 368.18 H280.95 M266.35 365.68 v5 M280.95 365.68 v5" fill="none"/>
<circle cx="273.65" cy="368.18" r="3.85" stroke="none"/>
<path d="M266.35 376.74 H280.95 M266.35 374.24 v5 M280.95 374.24 v5" fill="none"/>
<circle cx="273.65" cy="376.74" r="3.85" stroke="none"/>
<path d="M285.25 378.87 H299.85 M285.25 376.37 v5 M299.85 376.37 v5" fill="none"/>
<circle cx="292.55" cy="378.87" r="3.85" stroke="none"/>
<path d="M302.80 387.16 H317.40 M302.80 384.66 v5 M317.40 384.66 v5" fill="none"/>
<circle cx="310.10" cy="387.16" r="3.85" stroke="none"/>
<path d="M329.80 381.81 H344.40 M329.80 379.31 v5 M344.40 379.31 v5" fill="none"/>
<circle cx="337.10" cy="381.81" r="3.85" stroke="none"/>
<path d="M356.80 374.33 H371.40 M356.80 371.83 v5 M371.40 371.83 v5" fill="none"/>
<circle cx="364.10" cy="374.33" r="3.85" stroke="none"/>
</g>
<rect x="256.10" y="298.20" width="135.10" height="133.60" fill="none" stroke="#000" stroke-width="1.7"/>
<path d="M256.10 431.80 v-5.00 M266.90 431.80 v-3.00 M277.70 431.80 v-3.00 M288.50 431.80 v-3.00 M299.30 431.80 v-3.00 M310.10 431.80 v-5.00 M320.90 431.80 v-3.00 M331.70 431.80 v-3.00 M342.50 431.80 v-3.00 M353.30 431.80 v-3.00 M364.10 431.80 v-5.00 M374.90 431.80 v-3.00 M385.70 431.80 v-3.00 M256.10 431.80 h5.00 M256.10 405.07 h3.00 M256.10 378.34 h5.00 M256.10 351.61 h3.00 M256.10 324.88 h5.00" stroke="#000" stroke-width="1.3" fill="none"/>
<g font-size="13" text-anchor="middle">
<text x="256.1" y="445.5">0</text>
<text x="309.7" y="445.5">0.1</text>
<text x="364.0" y="445.5">0.2</text>
</g>
<g font-size="13" text-anchor="end">
<text x="253.9" y="436.4">0</text>
<text x="253.9" y="382.9">0.2</text>
<text x="253.9" y="329.5">0.4</text>
</g>
<text x="321.8" y="458.2" font-size="14.45" text-anchor="middle">Thickness (mm)</text>
<text x="371" y="421.6" font-size="13.5">c)</text>
<text transform="translate(229.4 372.2) rotate(-90)" font-size="14.4"><tspan x="0" y="0">r</tspan><tspan x="6.2" y="7.2" font-size="10.2">b</tspan></text>
</svg>
</body></html>
